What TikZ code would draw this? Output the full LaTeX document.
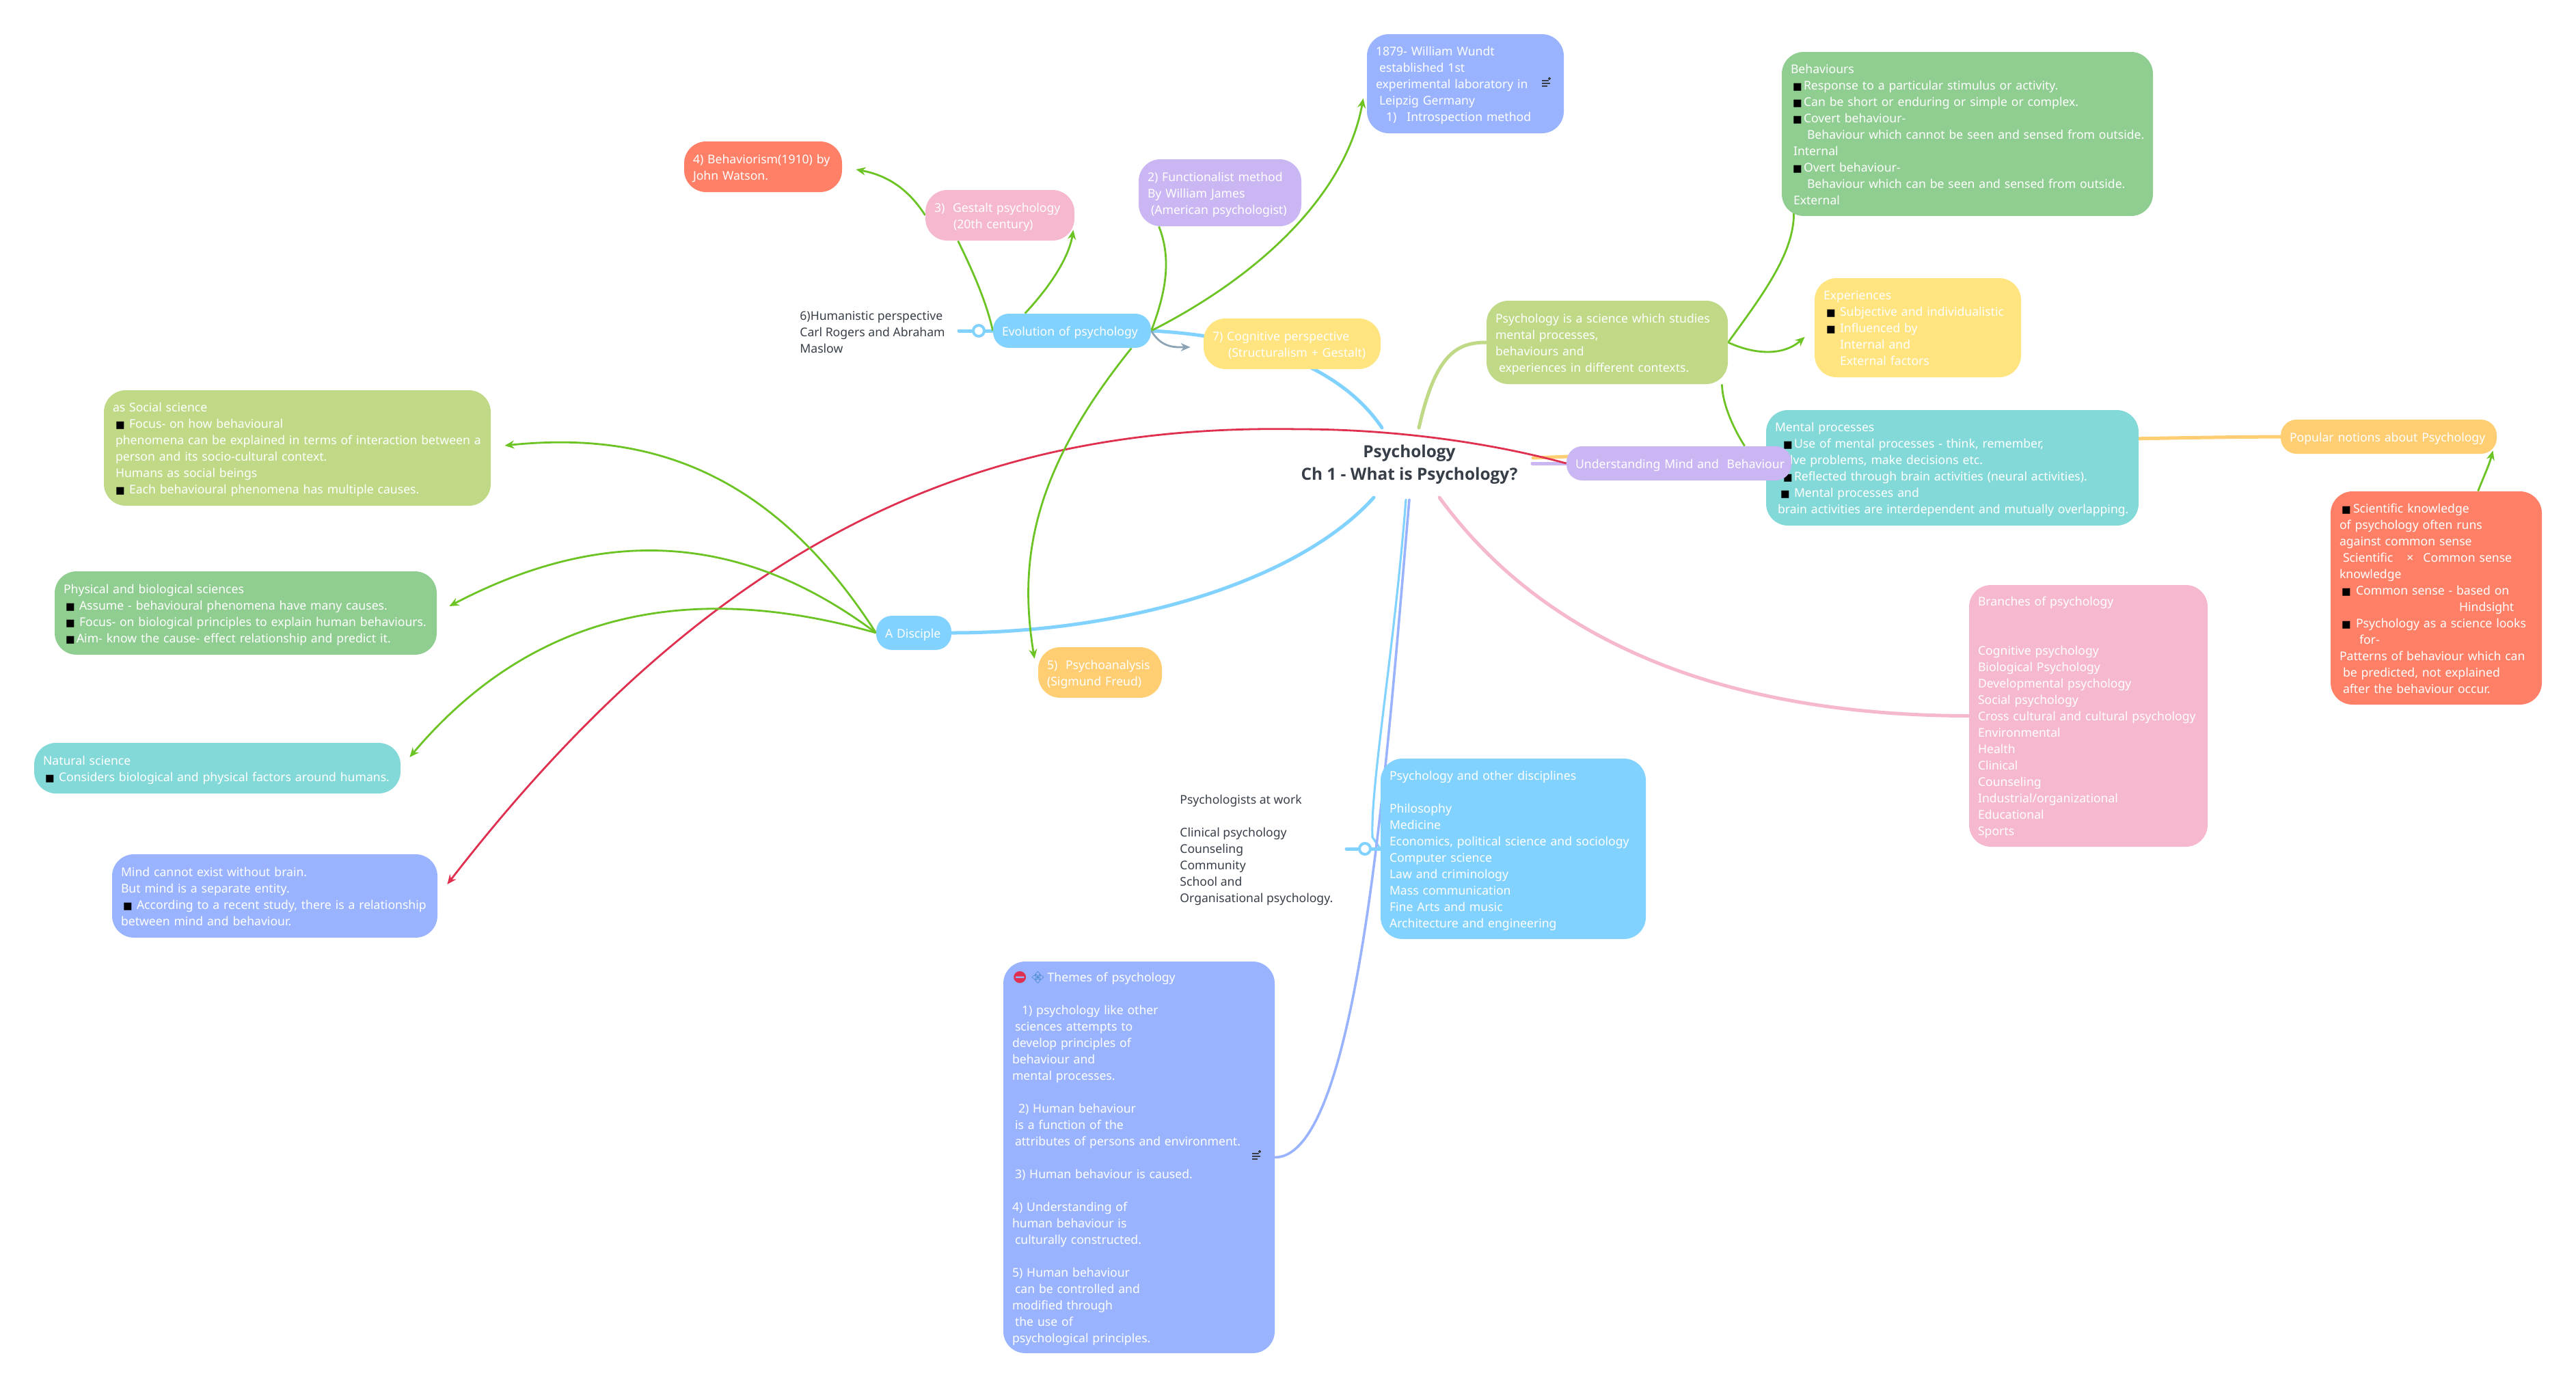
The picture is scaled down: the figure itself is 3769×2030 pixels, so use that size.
\documentclass[tikz,border=0pt]{standalone}
\usepackage{fontspec}
\usetikzlibrary{calc,arrows.meta,backgrounds}
\setmainfont{Noto Sans}
\newfontfamily\dvfont{DejaVu Sans}
\newfontfamily\emofont{Noto Emoji}
\newfontfamily\titlefont{Open Sans}
\definecolor{cblue}{HTML}{82D2FF}
\definecolor{clime}{HTML}{BFD986}
\definecolor{cgreen}{HTML}{8FCD90}
\definecolor{cyellow}{HTML}{FFE480}
\definecolor{cteal}{HTML}{83D9D8}
\definecolor{cpurple}{HTML}{C9B6F2}
\definecolor{cpink}{HTML}{F6B8CE}
\definecolor{ccoral}{HTML}{FF8066}
\definecolor{corange}{HTML}{FFCE73}
\definecolor{cperi}{HTML}{99B3FF}
\definecolor{carrow}{HTML}{6CC324}
\definecolor{cred}{HTML}{E0304F}
\definecolor{cgray}{HTML}{8CA3B5}
\definecolor{cdark}{HTML}{373E48}
\definecolor{cdiamond}{HTML}{3F86C8}
% indentation measured in reference pixels
\newcommand{\sk}[1]{\hspace*{\dimexpr#1pt/2\relax}}
% bullet: indent, then total width before the text
\newcommand{\bu}[2]{\makebox[\dimexpr#2pt/2\relax][l]{\hspace*{\dimexpr#1pt/2\relax}{\dvfont\fontsize{7.2}{12}\selectfont\textcolor{black}{■}}}}
\newcommand{\tx}[1]{\raisebox{-1.2pt}[\height][\depth]{\begin{tabular}{@{}l@{}}#1\end{tabular}}}
\tikzset{
  x=0.5pt,y=-0.5pt,
  wh/.code 2 args={\pgfmathsetlengthmacro\wdtmp{(#1-26)*0.5pt}\tikzset{minimum width=#1*0.5pt,minimum height=#2*0.5pt,text width=\wdtmp}},
  box/.style={rounded corners=16pt,inner xsep=6.5pt,inner ysep=0pt,align=left,text=white,font=\fontsize{8.8}{12}\selectfont},
  pill/.style={box,rounded corners=11.5pt},
  plain/.style={anchor=west,inner sep=0pt,align=left,text=cdark,font=\fontsize{8.8}{12}\selectfont},
  ring/.style={circle,draw=cblue,fill=white,line width=2pt,inner sep=0pt,minimum size=8pt},
  thickline/.style={line width=2.5pt,line cap=round},
  thinline/.style={carrow,line width=1.4pt},
  arr/.style={thinline,-{Stealth[length=7pt,width=6pt]}},
  noteicon/.style={cdark,line width=0.8pt}
}
\begin{document}
\begin{tikzpicture}
\useasboundingbox (0,0) rectangle (3769,2030);
% central topic
\node[align=center,text=cdark,inner sep=0pt,font=\titlefont\fontsize{12.2}{16.5}\selectfont\bfseries] (title) at (2062,680) {Psychology\\Ch 1 - What is Psychology?};
% boxes
\node[box,fill=cgreen,wh={543}{240}] (behav) at (2878.5,196) {\tx{Behaviours\\
\bu{3}{19}Response to a particular stimulus or activity.\\
\bu{3}{19}Can be short or enduring or simple or complex.\\
\bu{3}{19}Covert behaviour-\\
\sk{24}Behaviour which cannot be seen and sensed from outside.\\
\sk{4}Internal\\
\bu{3}{19}Overt behaviour-\\
\sk{24}Behaviour which can be seen and sensed from outside.\\
\sk{4}External}};
\node[box,fill=cyellow,wh={302}{145}] (exper) at (2806,479.5) {\tx{Experiences\\
\bu{4}{24}Subjective and individualistic\\
\bu{4}{24}Influenced by\\
\sk{24}Internal and\\
\sk{24}External factors}};
\node[box,fill=clime,wh={353}{122}] (sci) at (2351.5,501) {\tx{Psychology is a science which studies\\
mental processes,\\
behaviours and\\
\sk{5}experiences in different contexts.}};
\node[box,fill=cteal,wh={545}{169}] (mental) at (2856.5,684.5) {\tx{Mental processes\\
\bu{12}{28}Use of mental processes - think, remember,\\
\sk{3}solve problems, make decisions etc.\\
\bu{12}{28}Reflected through brain activities (neural activities).\\
\bu{8}{28}Mental processes and\\
\sk{4}brain activities are interdependent and mutually overlapping.}};
\node[pill,fill=cpurple,wh={329}{50}] (under) at (2456.5,678) {\tx{Understanding Mind and\ \ Behaviour}};
\node[pill,fill=corange,wh={316}{50}] (popular) at (3495,639) {\tx{Popular notions about Psychology}};
\node[box,fill=ccoral,wh={309}{312}] (notions) at (3564.5,875) {\tx{\bu{3}{20}Scientific knowledge\\
of psychology often runs\\
against common sense\\
\sk{5}Scientific\sk{20}×\sk{14}Common sense\\
knowledge\\
\bu{3}{24}Common sense - based on\\
\sk{175}Hindsight\\
\bu{3}{24}Psychology as a science looks\\
\sk{29}for-\\
Patterns of behaviour which can\\
\sk{5}be predicted, not explained\\
\sk{5}after the behaviour occur.}};
\node[box,fill=cpink,wh={349}{383}] (branch) at (3055.5,1047.5) {\tx{Branches of psychology\\
~\\
~\\
Cognitive psychology\\
Biological Psychology\\
Developmental psychology\\
Social psychology\\
Cross cultural and cultural psychology\\
Environmental\\
Health\\
Clinical\\
Counseling\\
Industrial/organizational\\
Educational\\
Sports}};
\node[box,fill=cblue,wh={388}{264}] (discip) at (2214,1242) {\tx{Psychology and other disciplines\\
~\\
Philosophy\\
Medicine\\
Economics, political science and sociology\\
Computer science\\
Law and criminology\\
Mass communication\\
Fine Arts and music\\
Architecture and engineering}};
\node[box,fill=cperi,wh={397}{573}] (themes) at (1666.5,1693.5) {\tx{{\emofont\textcolor{cred}{⛔}}\sk{4}{\emofont\textcolor{cdiamond}{💠}}\sk{3}Themes of psychology\\
~\\
\sk{14}1) psychology like other\\
\sk{4}sciences attempts to\\
develop principles of\\
behaviour and\\
mental processes.\\
~\\
\sk{9}2) Human behaviour\\
\sk{4}is a function of the\\
\sk{4}attributes of persons and environment.\\
~\\
\sk{4}3) Human behaviour is caused.\\
~\\
4) Understanding of\\
human behaviour is\\
\sk{4}culturally constructed.\\
~\\
5) Human behaviour\\
\sk{4}can be controlled and\\
modified through\\
\sk{4}the use of\\
psychological principles.}};
\node[box,fill=clime,wh={566}{169}] (social) at (435,655.5) {\tx{as Social science\\
\bu{4}{24}Focus- on how behavioural\\
\sk{4}phenomena can be explained in terms of interaction between a\\
\sk{4}person and its socio-cultural context.\\
\sk{4}Humans as social beings\\
\bu{4}{24}Each behavioural phenomena has multiple causes.}};
\node[box,fill=cgreen,wh={559}{122}] (physical) at (359.5,897) {\tx{Physical and biological sciences\\
\bu{3}{23}Assume - behavioural phenomena have many causes.\\
\bu{3}{23}Focus- on biological principles to explain human behaviours.\\
\bu{3}{19}Aim- know the cause- effect relationship and predict it.}};
\node[box,fill=cteal,wh={536}{74}] (natural) at (318,1124) {\tx{Natural science\\
\bu{3}{23}Considers biological and physical factors around humans.}};
\node[box,fill=cperi,wh={476}{122}] (mind) at (402,1311) {\tx{Mind cannot exist without brain.\\
But mind is a separate entity.\\
\bu{3}{23}According to a recent study, there is a relationship\\
between mind and behaviour.}};
\node[pill,fill=cblue,wh={110}{50}] (adisc) at (1337,926) {\tx{A Disciple}};
\node[box,fill=corange,wh={181}{74}] (analysis) at (1609.5,984) {\tx{5)\ \ Psychoanalysis\\(Sigmund Freud)}};
\node[box,fill=ccoral,wh={231}{74}] (behaviorism) at (1116.5,244) {\tx{4) Behaviorism(1910) by\\John Watson.}};
\node[box,fill=cpink,wh={218}{74}] (gestalt) at (1463,315) {\tx{3)\ \ Gestalt psychology\\\sk{28}(20th century)}};
\node[box,fill=cpurple,wh={238}{98}] (funct) at (1785,282) {\tx{2) Functionalist method\\By William James\\\sk{5}(American psychologist)}};
\node[box,fill=cperi,wh={288}{145}] (wundt) at (2144,122.5) {\tx{1879- William Wundt\\
\sk{5}established 1st\\
experimental laboratory in\\
\sk{5}Leipzig Germany\\
\sk{15}1)\sk{15}Introspection method}};
\node[pill,fill=cblue,wh={231}{50}] (evol) at (1568.5,484) {\tx{Evolution of psychology}};
\node[box,fill=cyellow,wh={259}{74}] (cogn) at (1890.5,503) {\tx{7) Cognitive perspective\\\sk{23}(Structuralism + Gestalt)}};
% free texts
\node[plain] (human) at (1170,486) {6)Humanistic perspective\\Carl Rogers and Abraham\\Maslow};
\node[plain] (work) at (1726,1244) {Psychologists at work\\~\\Clinical psychology\\Counseling\\Community\\School and\\Organisational psychology.};
% fold rings
\node[ring] (ringa) at (1432,484) {};
\node[ring] (ringb) at (1997,1242) {};
% note icons
\coordinate (notea) at (2262,122);
\coordinate (noteb) at (1838,1692);
\foreach \n in {notea,noteb}{
  \draw[noteicon] ($(\n)+(-6,-4)$) -- ($(\n)+(4,-4)$);
  \draw[noteicon] ($(\n)+(-6,0)$) -- ($(\n)+(6,0)$);
  \draw[noteicon] ($(\n)+(-6,4)$) -- ($(\n)+(2,4)$);
  \draw[noteicon] ($(\n)+(3,-7)$) -- ($(\n)+(7,-7)$);
  \draw[noteicon] ($(\n)+(5,-9)$) -- ($(\n)+(5,-5)$);
}
\begin{scope}[on background layer]
% main branches
\draw[thickline,cblue] ($(title)+(-40,-54)$) .. controls (1950,520) and (1800,490) .. (evol.east);
\draw[thickline,clime] ($(title)+(14,-54)$) .. controls (2100,520) and (2130,501) .. (sci.west);
\draw[thickline,corange] ($(title)+(181,-10)$) .. controls (2500,660) and (3000,641) .. (popular.west);
\draw[thickline,cpurple] ($(title)+(180,-2)$) -- (under.west);
\draw[thickline,cblue] ($(title)+(-52,48)$) .. controls (1900,850) and (1650,926) .. (adisc.east);
\draw[line width=1.6pt,line cap=round,cblue] ($(title)+(-5,51)$) .. controls (2040,950) and (2005,1150) .. (2008,1225) -- (discip.west);
\draw[line width=1.8pt,line cap=round,cperi] ($(title)+(0,51)$) .. controls (2030,1100) and (1990,1693) .. (themes.east);
\draw[thickline,cpink] ($(title)+(44,48)$) .. controls (2290,980) and (2600,1047) .. (branch.west);
% fold stubs
\draw[thickline,cblue] ($(ringa)+(-29,0)$) -- (ringa);
\draw[thickline,cblue] (ringa) -- (evol.west);
\draw[thickline,cblue] ($(ringb)+(-27,0)$) -- (ringb);
\draw[thickline,cblue] (ringb) -- (discip.west);
% relations
\draw[cred,line width=1.4pt,-{Stealth[length=7pt,width=6pt]}] (under.west) .. controls (2170,645) and (2030,628) .. (1900,628) .. controls (1450,620) and (1060,770) .. ($(mind.east)+(14,-17)$);
\draw[arr] (evol.east) .. controls (1850,400) and (1970,280) .. ($(wundt.west)+(-5,21.5)$);
\draw[thinline] ($(funct.south west)+(30,0)$) .. controls (1715,380) and (1705,430) .. (evol.east);
\draw[thinline] ($(gestalt.south west)+(48,0)$) .. controls (1430,410) and (1445,450) .. (evol.west);
\draw[arr] ($(evol.north west)+(47,0)$) .. controls (1545,410) and (1565,370) .. ($(gestalt.south east)+(-2,-16)$);
\draw[arr] (gestalt.west) .. controls (1325,270) and (1290,255) .. ($(behaviorism.east)+(20,4)$);
\draw[arr] ($(evol.south east)+(-29,0)$) .. controls (1510,690) and (1490,820) .. ($(analysis.west)+(-5,-20)$);
\draw[cgray,line width=1.4pt,-{Stealth[length=7pt,width=6pt]}] (evol.east) .. controls (1700,510) and (1720,508) .. ($(cogn.west)+(-19,5)$);
\draw[arr] (adisc.west) .. controls (1130,690) and (950,630) .. ($(social.east)+(20,-3.5)$);
\draw[arr] (adisc.west) .. controls (1100,790) and (900,760) .. ($(physical.east)+(18,-10)$);
\draw[arr] (adisc.west) .. controls (1050,860) and (800,870) .. ($(natural.east)+(13,-16)$);
\draw[thinline] (sci.east) .. controls (2580,430) and (2625,370) .. ($(behav.south west)+(18,-5)$);
\draw[arr] (sci.east) .. controls (2570,520) and (2610,520) .. ($(exper.west)+(-14,13.5)$);
\draw[thinline] ($(sci.south east)+(-9,0)$) .. controls (2520,590) and (2535,625) .. ($(mental.north west)+(-31,53)$);
\draw[arr] ($(notions.north west)+(216,0)$) .. controls (3635,695) and (3642,680) .. ($(popular.south east)+(-6,-5)$);
\end{scope}
\end{tikzpicture}
\end{document}
